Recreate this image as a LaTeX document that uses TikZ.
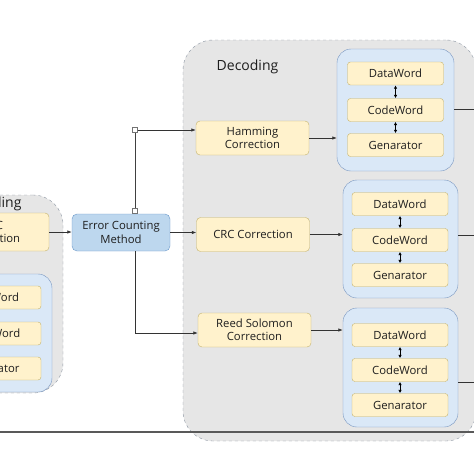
\documentclass[tikz,border=0pt]{standalone}
\usepackage{fontspec}
\setmainfont{Open Sans}
\usepackage{xcolor}
\usetikzlibrary{arrows.meta,positioning}
\definecolor{boxfill}{HTML}{FFF2CC}
\definecolor{boxline}{HTML}{C4B26A}
\definecolor{grpfill}{HTML}{DAE8F7}
\definecolor{grpline}{HTML}{7896C0}
\definecolor{ecmfill}{HTML}{BDD7EE}
\definecolor{ecmline}{HTML}{6A97C8}
\definecolor{phasefill}{HTML}{E6E6E6}
\definecolor{phaseline}{HTML}{8C96A2}
\definecolor{txt}{HTML}{1E1E1E}
\tikzset{
	corr box/.style={draw=boxline, fill=boxfill, rounded corners=4pt, minimum width=113pt, minimum height=34pt, inner sep=0pt, align=center, text=txt, font=\fontsize{11.3}{13.5}\selectfont},
	word box/.style={draw=boxline, fill=boxfill, rounded corners=3pt, minimum width=96pt, minimum height=23pt, inner sep=0pt, text=txt, font=\fontsize{11.3}{13.5}\selectfont},
	code grp/.style={draw=grpline, fill=grpfill, rounded corners=14pt, inner sep=0pt},
	phase grp/.style={draw=phaseline, fill=phasefill, dashed, rounded corners=30pt, inner sep=0pt},
	flow/.style={draw=black!80, line width=0.7pt, -{Latex[length=4.5pt,width=3.5pt]}},
	swap/.style={black, line width=0.8pt, {Latex[length=3.5pt,width=3.5pt]}-{Latex[length=3.5pt,width=3.5pt]}},
	pin box/.style={draw=black!55, fill=white, minimum size=5pt, inner sep=0pt},
}

\begin{document}
\begin{tikzpicture}[x=1pt, y=-1pt]
	\useasboundingbox (0,0) rectangle (474,474);
	\clip (0,0) rectangle (474,474);
	
	% encoding side (cut off at the left)
	\node[phase grp, minimum width=183pt, minimum height=198pt] (enc) at (-28.5,294) {};
	\node[anchor=east, text=txt, font=\fontsize{14}{16}\selectfont] (enclabel) at (25,204) {Encoding};
	\node[corr box, minimum height=38pt] (lcrc) at (-7.5,232) {CRC\\Correction};
	\node[code grp, minimum width=122pt, minimum height=118pt] (lg) at (-9,333) {};
	\node[word box, minimum width=97pt] (ldw) at (-7.5,297.5) {DataWord};
	\node[word box, minimum width=97pt] (lcw) at (-7.5,333.5) {CodeWord};
	\node[word box, minimum width=97pt] (lgen) at (-7.5,368.5) {Genarator};
	
	% decoding side
	\node[phase grp, minimum width=293pt, minimum height=401pt] (dec) at (329.5,240.5) {};
	\node[text=txt, font=\fontsize{14}{16}\selectfont] (declabel) at (247.5,67) {Decoding};
	
	\node[corr box] (ham) at (252.5,138) {Hamming\\Correction};
	\node[corr box] (crc) at (253,234.5) {CRC Correction};
	\node[corr box] (rs) at (254.5,330) {Reed Solomon\\Correction};
	
	\node[code grp, minimum width=117pt, minimum height=122pt] (g1) at (395.5,110) {};
	\node[word box] (dw1) at (395.5,73.5) {DataWord};
	\node[word box] (cw1) at (395.5,110) {CodeWord};
	\node[word box] (gen1) at (395.5,145) {Genarator};
	
	\node[code grp, minimum width=115pt, minimum height=118pt] (g2) at (400.5,239) {};
	\node[word box] (dw2) at (400,204) {DataWord};
	\node[word box] (cw2) at (400,240) {CodeWord};
	\node[word box] (gen2) at (400,275) {Genarator};
	
	\node[code grp, minimum width=115pt, minimum height=119pt] (g3) at (400.5,367.5) {};
	\node[word box] (dw3) at (400,335) {DataWord};
	\node[word box] (cw3) at (400,370) {CodeWord};
	\node[word box] (gen3) at (400,405) {Genarator};
	
	% error counting and its branches
	\node[draw=ecmline, fill=ecmfill, rounded corners=5pt, minimum width=98pt, minimum height=37pt, inner sep=0pt, align=center, text=txt, font=\fontsize{11.3}{13.5}\selectfont] (ecm) at (121,232.5) {Error Counting\\Method};
	\node[pin box] (pinlow) at (135,211) {};
	\node[pin box] (pinup) at (135,130) {};
	\coordinate (bend) at (135,333);
	
	\draw[flow] (lcrc.east) -- (ecm.west |- lcrc.east);
	\draw[draw=black!75, line width=0.8pt] (pinlow) -- (pinup);
	\draw[flow] (pinup) -- (pinup -| ham.west);
	\draw[flow] (ecm.east) -- (ecm.east -| crc.west);
	\draw[flow] (ecm.south -| bend) -- (bend) -- (bend -| rs.west);
	
	\draw[flow] (ham.east) -- (ham.east -| g1.west);
	\draw[flow] (crc.east) -- (crc.east -| g2.west);
	\draw[flow] (rs.east) -- (rs.east -| g3.west);
	
	\draw[swap] (dw1) -- (cw1);
	\draw[swap] (cw1) -- (gen1);
	\draw[swap] (dw2) -- (cw2);
	\draw[swap] (cw2) -- (gen2);
	\draw[swap] (dw3) -- (cw3);
	\draw[swap] (cw3) -- (gen3);
	
	% outputs leaving at the right
	\coordinate (out1) at (480,109);
	\coordinate (out2) at (480,235);
	\coordinate (out3) at (480,382);
	\draw[black!80, line width=0.7pt] (g1.east |- out1) -- (out1);
	\draw[black!80, line width=0.7pt] (g2.east |- out2) -- (out2);
	\draw[black!80, line width=0.7pt] (g3.east |- out3) -- (out3);
	
	\draw[black!65, line width=1.2pt] (0,432) -- (474,432);
\end{tikzpicture}
\end{document}
